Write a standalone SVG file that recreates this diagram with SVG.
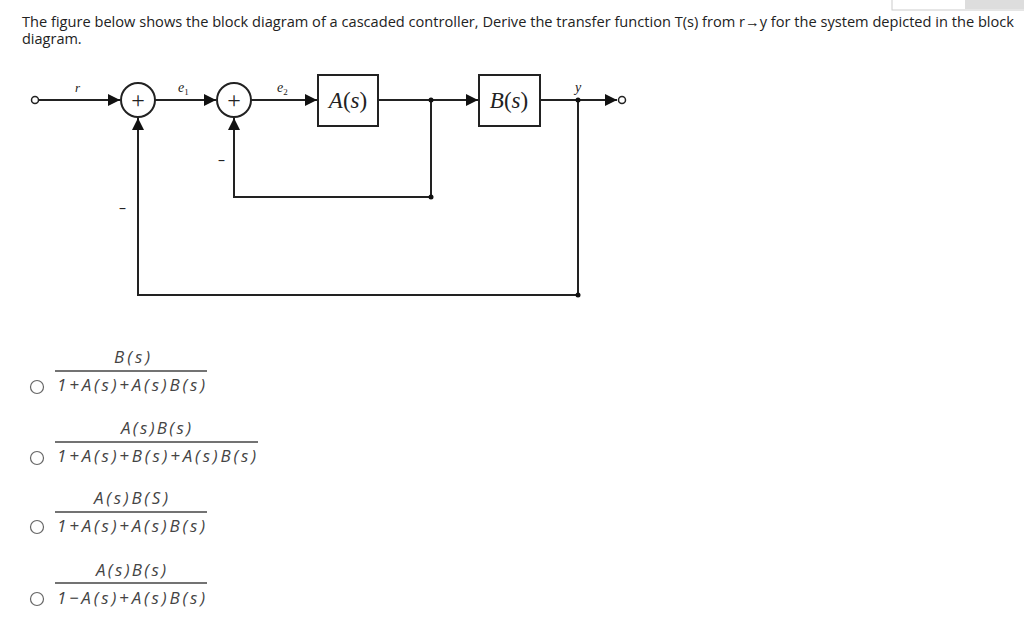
<svg xmlns="http://www.w3.org/2000/svg" width="1024" height="638" viewBox="0 0 1024 638">
<style>
.t{font-family:"Open Sans",sans-serif;fill:#222}
.m{font-family:"Liberation Serif",serif;font-style:italic;fill:#222}
.ln{stroke:#222;stroke-width:2;fill:none}
.bx{stroke:#222;stroke-width:2;fill:#fff}
.f{font-family:"Open Sans",sans-serif;font-size:17px;fill:#444;font-style:italic}
.fl{stroke:#444;stroke-width:1.3}
.rad{fill:#fff;stroke:#666;stroke-width:1.2}
</style>
<defs><marker id="a" viewBox="0 0 10 10" refX="10" refY="5" markerWidth="6" markerHeight="6" orient="auto"><path d="M0,0L10,5L0,10z" fill="#111"/></marker></defs>
<rect x="892" y="-1" width="133" height="11" fill="#fff" stroke="#ccc"/>
<rect x="965" y="0" width="59" height="9" fill="#ddd"/>
<text class="t" x="22" y="27" style="font-size:14.5px" textLength="992" lengthAdjust="spacingAndGlyphs">The figure below shows the block diagram of a cascaded controller, Derive the transfer function T(s) from r→y for the system depicted in the block</text>
<text class="t" x="22" y="44" style="font-size:14.5px">diagram.</text>
<g id="connectors">
<path class="ln" d="M37,100H120" marker-end="url(#a)"/>
<path class="ln" d="M155,100H216" marker-end="url(#a)"/>
<path class="ln" d="M251,100H317" marker-end="url(#a)"/>
<path class="ln" d="M378,100H478" marker-end="url(#a)"/>
<path class="ln" d="M540,100H617" marker-end="url(#a)"/>
<path class="ln" d="M431,100V197H234V118" marker-end="url(#a)"/>
<path class="ln" d="M578,100V295H138V118" marker-end="url(#a)"/>
<circle cx="431" cy="100" r="2.5" fill="#111"/><circle cx="431" cy="197" r="2.5" fill="#111"/>
<circle cx="578" cy="100" r="2.5" fill="#111"/><circle cx="578" cy="295" r="2.5" fill="#111"/>
<circle cx="35" cy="100" r="3.5" fill="#fff" stroke="#222" stroke-width="1.5"/>
<circle cx="622" cy="100" r="3.5" fill="#fff" stroke="#222" stroke-width="1.5"/>
<text class="m" x="75" y="92" style="font-size:13px">r</text>
<text class="m" x="178" y="92" style="font-size:14px">e<tspan style="font-size:9px;font-style:normal" dy="3">1</tspan></text>
<text class="m" x="277" y="92" style="font-size:14px">e<tspan style="font-size:9px;font-style:normal" dy="3">2</tspan></text>
<text class="m" x="575" y="92" style="font-size:14px">y</text>
<text class="t" x="218" y="165" style="font-size:14px">–</text>
<text class="t" x="119" y="213" style="font-size:14px">–</text>
</g>
<g id="sum1"><circle class="bx" cx="138" cy="100" r="17"/><text class="m" x="138" y="108" text-anchor="middle" style="font-size:24px;font-style:normal">+</text></g>
<g id="sum2"><circle class="bx" cx="234" cy="100" r="17"/><text class="m" x="234" y="108" text-anchor="middle" style="font-size:24px;font-style:normal">+</text></g>
<g id="A"><rect class="bx" x="318" y="75" width="60" height="51"/><text class="m" x="348" y="108" text-anchor="middle" style="font-size:23px">A<tspan style="font-style:normal">(</tspan>s<tspan style="font-style:normal">)</tspan></text></g>
<g id="B"><rect class="bx" x="479" y="75" width="61" height="51"/><text class="m" x="509" y="108" text-anchor="middle" style="font-size:23px">B<tspan style="font-style:normal">(</tspan>s<tspan style="font-style:normal">)</tspan></text></g>
<g id="options">
<circle class="rad" cx="37" cy="387" r="6.5"/>
<text class="f" x="114" y="363" textLength="36">B(s)</text><line class="fl" x1="55" y1="371" x2="207" y2="371"/><text class="f" x="57" y="391" textLength="148">1+A(s)+A(s)B(s)</text>
<circle class="rad" cx="37" cy="458" r="6.5"/>
<text class="f" x="121" y="434" textLength="70">A(s)B(s)</text><line class="fl" x1="55" y1="442" x2="258" y2="442"/><text class="f" x="57" y="462" textLength="199">1+A(s)+B(s)+A(s)B(s)</text>
<circle class="rad" cx="37" cy="527" r="6.5"/>
<text class="f" x="94" y="504" textLength="74">A(s)B(S)</text><line class="fl" x1="55" y1="512" x2="207" y2="512"/><text class="f" x="57" y="532" textLength="148">1+A(s)+A(s)B(s)</text>
<circle class="rad" cx="37" cy="599" r="6.5"/>
<text class="f" x="96" y="576" textLength="70">A(s)B(s)</text><line class="fl" x1="55" y1="583" x2="207" y2="583"/><text class="f" x="57" y="604" textLength="148">1−A(s)+A(s)B(s)</text>
</g>
</svg>
